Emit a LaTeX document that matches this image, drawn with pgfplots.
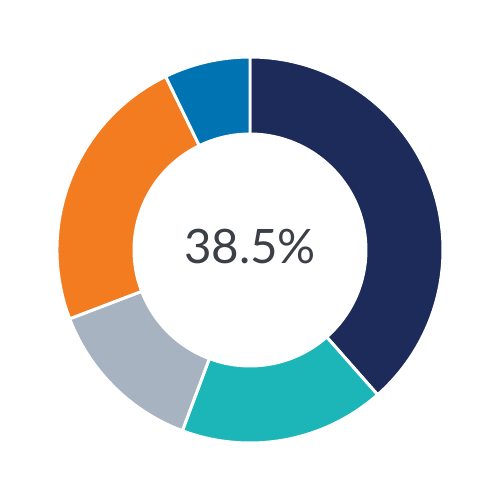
\documentclass[border=0pt]{standalone}
\usepackage{fontspec}
\setmainfont{Lato}
\usepackage{pgfplots}
\usepackage{pgfplotstable}
\pgfplotsset{compat=1.18}
\usetikzlibrary{calc}

\definecolor{cNavy}{HTML}{1C2B5A}
\definecolor{cTeal}{HTML}{1CB5B8}
\definecolor{cGray}{HTML}{A8B3C2}
\definecolor{cOrange}{HTML}{F47C20}
\definecolor{cBlue}{HTML}{0073B3}
\definecolor{cText}{HTML}{3B3F46}

% share in percent, clockwise from 12 o'clock
\pgfplotstableread{
label value color
A 38.5 cNavy
B 17.2 cTeal
C 13.5 cGray
D 23.6 cOrange
E 7.2 cBlue
}\donutdata

\begin{document}
\begin{tikzpicture}
\begin{axis}[
    hide axis,
    disabledatascaling,
    x=1cm, y=1cm,
    xmin=-6.477, xmax=6.477,
    ymin=-6.477, ymax=6.477,
    clip=false,
  ]
  \path (axis cs:-6.477,-6.477) rectangle (axis cs:6.477,6.477);
  \pgfmathsetmacro\cum{0}
  \pgfplotsforeachungrouped \i in {0,...,4}{%
    \pgfplotstablegetelem{\i}{value}\of\donutdata \let\v\pgfplotsretval
    \pgfplotstablegetelem{\i}{color}\of\donutdata \let\c\pgfplotsretval
    \pgfmathsetmacro\aStart{90-3.6*\cum}
    \pgfmathsetmacro\aEnd{90-3.6*(\cum+\v)}
    \edef\doit{\noexpand\fill[\c, draw=white, line width=2.2pt]
      ($(axis cs:0,0)+(\aStart:5cm)$)
      arc[start angle=\aStart, end angle=\aEnd, radius=5cm]
      -- ($(axis cs:0,0)+(\aEnd:3.005cm)$)
      arc[start angle=\aEnd, end angle=\aStart, radius=3.005cm] -- cycle;}
    \doit
    \pgfmathsetmacro\cum{\cum+\v}
  }
  \node[font=\fontsize{35}{42}\selectfont, text=cText] at (axis cs:0,0.09) {38.5\%};
\end{axis}
\end{tikzpicture}
\end{document}
